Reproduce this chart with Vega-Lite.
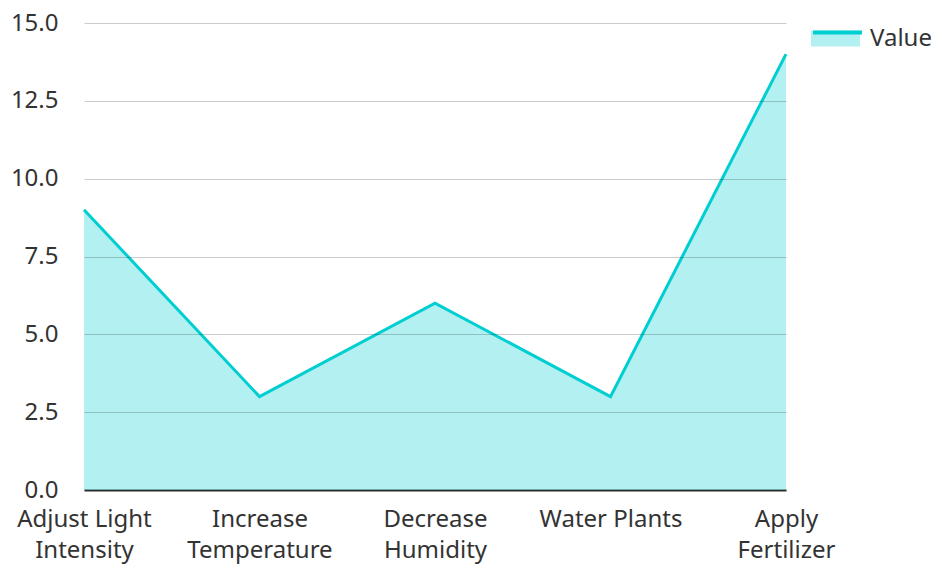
{
  "$schema": "https://vega.github.io/schema/vega-lite/v6.json",
  "width": 702,
  "height": 467,
  "autosize": {"type": "none"},
  "padding": {"left": 84, "top": 23, "right": 149, "bottom": 74},
  "background": "white",
  "config": {
    "view": {"stroke": null},
    "font": "Noto Sans",
    "axis": {"labelFont": "Noto Sans", "labelColor": "#333333", "labelFontSize": 24},
    "legend": {"labelFont": "Noto Sans", "labelColor": "#333333", "labelFontSize": 24}
  },
  "data": {
    "values": [
      {"action": "Adjust Light Intensity", "value": 9},
      {"action": "Increase Temperature", "value": 3},
      {"action": "Decrease Humidity", "value": 6},
      {"action": "Water Plants", "value": 3},
      {"action": "Apply Fertilizer", "value": 14}
    ]
  },
  "encoding": {
    "x": {
      "field": "action",
      "type": "nominal",
      "sort": null,
      "scale": {"type": "point", "padding": 0},
      "axis": {
        "title": null,
        "labelAngle": 0,
        "ticks": false,
        "domainColor": "#333333",
        "domainWidth": 2,
        "labelPadding": 17,
        "labelLineHeight": 31,
        "labelExpr": "datum.label == 'Water Plants' ? datum.label : datum.label == 'Adjust Light Intensity' ? ['Adjust Light', 'Intensity'] : split(datum.label, ' ')"
      }
    },
    "y": {
      "field": "value",
      "type": "quantitative",
      "scale": {"domain": [0, 15]},
      "axis": {
        "title": null,
        "values": [0, 2.5, 5, 7.5, 10, 12.5, 15],
        "format": ".1f",
        "domain": false,
        "ticks": false,
        "labelPadding": 26,
        "gridColor": "#000000",
        "gridOpacity": 0.2,
        "zindex": 1
      }
    }
  },
  "layer": [
    {
      "mark": {"type": "area", "fillOpacity": 0.3},
      "encoding": {
        "fill": {
          "datum": "Value",
          "scale": {"range": ["#00CED1"]},
          "legend": {
            "title": null,
            "orient": "none",
            "legendX": 727,
            "legendY": -9,
            "padding": 0,
            "symbolType": "M-1,-0.33H1V0.33H-1Z",
            "symbolSize": 2401,
            "symbolOpacity": 0.3,
            "symbolStrokeWidth": 0,
            "labelOffset": 10
          }
        }
      }
    },
    {
      "mark": {"type": "line", "strokeWidth": 3},
      "encoding": {
        "stroke": {
          "datum": "Series",
          "scale": {"range": ["#00CED1"]},
          "legend": {
            "title": null,
            "orient": "none",
            "legendX": 727,
            "legendY": -9,
            "padding": 0,
            "symbolType": "M-1,-0.33H1",
            "symbolSize": 2401,
            "symbolStrokeWidth": 4,
            "labelOffset": 10,
            "labelExpr": "''"
          }
        }
      }
    }
  ]
}
